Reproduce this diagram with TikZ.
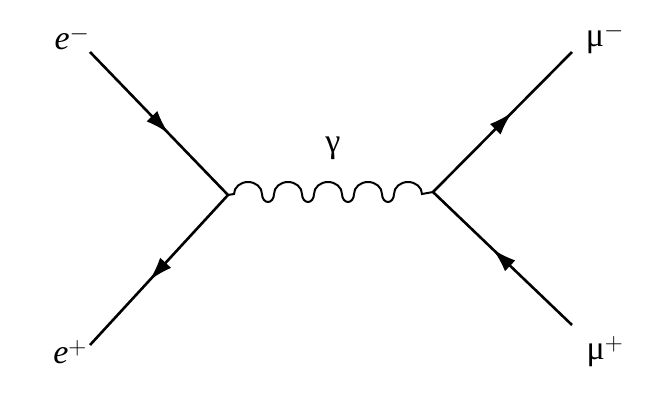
\documentclass[tikz,border=0pt]{standalone}
\usepackage{fontspec}
\setmainfont{Liberation Serif}
\usetikzlibrary{decorations.markings,arrows.meta}
\begin{document}
\begin{tikzpicture}[x=1pt,y=-1pt,
  fermion/.style={line width=2.6pt,postaction={decorate},decoration={markings,mark=at position 0.57 with {\arrow{Latex[length=24pt,width=15pt]}}}},
  photon/.style={line width=2pt},
  lbl/.style={font=\fontsize{34}{36}\selectfont,inner sep=0pt}]
\useasboundingbox (0,0) rectangle (657,402);
\coordinate (L) at (228,195);
\coordinate (R) at (433,192);
\coordinate (a) at (90,52);
\coordinate (b) at (90,345);
\coordinate (c) at (572,52);
\coordinate (d) at (572,325);
\draw[fermion] (a) -- (L);
\draw[fermion] (L) -- (b);
\draw[fermion] (R) -- (c);
\draw[fermion] (d) -- (R);
\draw[photon] (L) -- ++(6,-1)
  arc[start angle=180,end angle=0,x radius=14,y radius=-12]
  arc[start angle=180,end angle=360,x radius=6,y radius=-8]
  arc[start angle=180,end angle=0,x radius=14,y radius=-12]
  arc[start angle=180,end angle=360,x radius=6,y radius=-8]
  arc[start angle=180,end angle=0,x radius=14,y radius=-12]
  arc[start angle=180,end angle=360,x radius=6,y radius=-8]
  arc[start angle=180,end angle=0,x radius=14,y radius=-12]
  arc[start angle=180,end angle=360,x radius=6,y radius=-8]
  arc[start angle=180,end angle=0,x radius=14,y radius=-12]
  -- (R);
\node[lbl] (em) at (72,38) {\textit{e}$^{-}$};
\node[lbl] (ep) at (70,352) {\textit{e}$^{+}$};
\node[lbl] (mm) at (605,38) {μ$^{-}$};
\node[lbl] (mp) at (605,352) {μ$^{+}$};
\node[lbl] (g) at (333,148) {γ};
\end{tikzpicture}
\end{document}
